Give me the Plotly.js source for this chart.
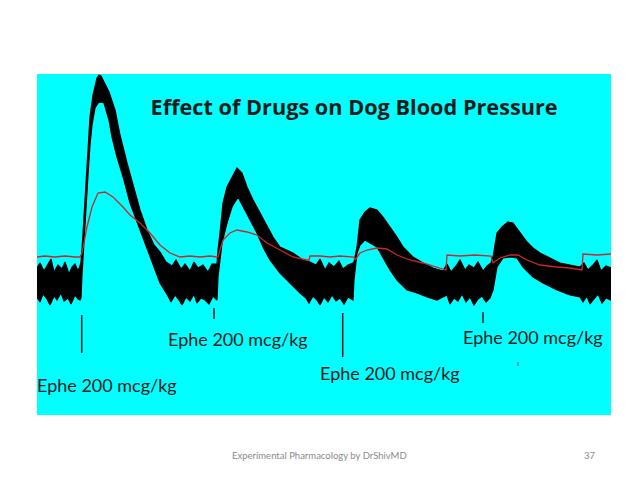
<!DOCTYPE html>
<html>
<head>
<meta charset="utf-8">
<script src="https://cdn.plot.ly/plotly-3.0.1.min.js"></script>
<style>html,body{margin:0;padding:0;background:#fff;}#chart{width:638px;height:478px;}</style>
</head>
<body>
<div id="chart"></div>
<script>
var upperT = [0,3,7,10,14,17,21,25,28,32,35,38,41,43,44,45,47,49,51,53,56,58,60,62,64,67,72,78,83,90,97,103,110,117,123,129,135,139,144,148,153,157,161,166,171,175,180,181,183,186,190,195,200,205,210,216,223,230,236,243,250,256,266,273,279,283,288,292,297,302,306,311,316,317,320,323,328,333,340,346,353,360,366,376,386,396,406,410,414,419,423,428,432,437,441,446,450,454,456,460,465,471,476,483,490,496,503,513,523,533,543,547,551,556,560,564,569,574];
var upperP = [147,152,144,149,156,143,150,146,153,141,148,151,144,149,153,165,200,235,265,298,320,330,337,340,339,333,323,305,280,252,228,205,185,170,163,153,149,155,146,151,144,153,147,150,143,151,151,165,182,212,228,238,247,242,228,215,202,188,178,168,165,162,155,153,150,156,145,152,148,154,146,150,152,153,168,195,203,207,205,198,188,178,168,158,152,147,144,151,143,149,155,145,150,147,153,144,149,152,158,182,188,193,192,183,173,167,162,157,152,150,148,152,145,150,155,144,149,147];

var lowerT = [0,3,6,10,13,17,20,24,27,31,34,38,41,43,44,45,47,49,51,53,55,58,61,64,67,72,75,80,87,93,100,107,115,123,131,134,138,142,145,149,153,157,160,164,168,172,176,180,181,185,190,195,201,206,213,220,226,233,243,253,263,269,272,276,280,283,287,291,295,299,303,307,311,316,317,320,323,328,333,340,346,353,360,370,380,390,400,410,413,417,421,425,429,433,437,441,445,449,453,456,460,466,473,480,486,496,506,520,533,543,546,550,553,557,561,565,569,574];
var lowerP = [118,113,121,116,110,119,115,122,114,117,111,120,116,115,117,140,175,210,240,270,290,307,312,313,312,295,278,258,235,212,192,175,153,132,119,113,120,115,110,118,114,121,112,117,115,111,119,115,138,172,192,208,218,208,195,182,168,155,142,132,122,117,112,119,115,110,118,113,120,114,117,111,118,115,135,162,170,175,172,168,158,145,135,125,122,118,115,120,111,117,114,121,113,118,110,116,119,113,117,125,148,157,158,157,148,138,132,125,120,118,113,119,111,116,121,112,117,115];

var meanT = [0,8,18,28,38,43,45,50,55,61,68,76,86,93,103,113,123,133,143,153,163,173,180,181,186,193,200,210,220,230,243,256,270,272,273,283,293,303,317,318,323,330,340,350,360,373,386,400,409,410,423,438,454,456,463,473,481,490,503,520,533,545,546,560,574];
var meanP = [158,159,158,159,158,158,162,188,208,222,223,218,208,200,192,182,170,162,158,159,158,159,158,158,175,182,185,183,180,172,165,158,155,155,159,159,158,159,158,155,162,165,167,166,160,155,152,148,145,160,159,160,159,152,157,160,160,155,150,148,147,145,161,160,161];

var doseLabels = ["Ephe 200 mcg/kg","Ephe 200 mcg/kg","Ephe 200 mcg/kg","Ephe 200 mcg/kg"];
var titleText = "Effect of Drugs on Dog Blood Pressure";
var footerText = "Experimental Pharmacology by DrShivMD";
var pageNumber = "37";

// Band polygon: upper envelope then lower envelope reversed
var bandX = upperT.concat(lowerT.slice().reverse());
var bandY = upperP.concat(lowerP.slice().reverse());

var traces = [
  {x: bandX, y: bandY, type: 'scatter', mode: 'lines', fill: 'toself',
   fillcolor: '#000000', line: {color: '#000000', width: 1.2}, hoverinfo: 'skip'},
  {x: meanT, y: meanP, type: 'scatter', mode: 'lines',
   line: {color: '#c8282a', width: 1.3}, hoverinfo: 'skip'}
];

var labelFont = {family: 'Lato, "Open Sans", sans-serif', size: 18, color: '#1b1b1b'};
var footFont = {family: 'Lato, "Open Sans", sans-serif', size: 9.5, color: '#8a8a8a'};
var layout = {
  width: 638, height: 478,
  margin: {l: 37, r: 27, t: 74, b: 63, pad: 0},
  paper_bgcolor: '#ffffff',
  plot_bgcolor: '#00ffff',
  showlegend: false,
  title: {text: '<b>' + titleText + '</b>', font: {family: '"Open Sans", Lato, sans-serif', size: 21.7, color: '#1b1b1b'},
          xref: 'paper', yref: 'container', x: 0.5525, xanchor: 'center', y: 1 - 107/478, yanchor: 'middle'},
  xaxis: {range: [0, 574], visible: false, fixedrange: true},
  yaxis: {range: [0, 341], visible: false, fixedrange: true},
  annotations: [
    {x: 0, y: 30, xref: 'x', yref: 'y', xshift: -2.5, text: doseLabels[0], showarrow: false, xanchor: 'left', yanchor: 'middle', font: labelFont},
    {x: 131, y: 76, xref: 'x', yref: 'y', xshift: -2.5, text: doseLabels[1], showarrow: false, xanchor: 'left', yanchor: 'middle', font: labelFont},
    {x: 283, y: 42, xref: 'x', yref: 'y', xshift: -2.5, text: doseLabels[2], showarrow: false, xanchor: 'left', yanchor: 'middle', font: labelFont},
    {x: 426, y: 78, xref: 'x', yref: 'y', xshift: -2.5, text: doseLabels[3], showarrow: false, xanchor: 'left', yanchor: 'middle', font: labelFont},
    {x: 0.3362, y: -0.1202, xref: 'paper', yref: 'paper', text: footerText, showarrow: false, xanchor: 'left', yanchor: 'middle', font: footFont},
    {x: 0.9774, y: -0.1202, xref: 'paper', yref: 'paper', text: pageNumber, showarrow: false, xanchor: 'right', yanchor: 'middle', font: footFont}
  ],
  shapes: [
    {type: 'line', xref: 'x', yref: 'y', x0: 44.7, x1: 44.7, y0: 100, y1: 62, line: {color: '#1b1b1b', width: 1.5}},
    {type: 'line', xref: 'x', yref: 'y', x0: 177, x1: 177, y0: 107, y1: 96, line: {color: '#1b1b1b', width: 1.5}},
    {type: 'line', xref: 'x', yref: 'y', x0: 305.7, x1: 305.7, y0: 102, y1: 58, line: {color: '#1b1b1b', width: 1.5}},
    {type: 'line', xref: 'x', yref: 'y', x0: 446, x1: 446, y0: 103, y1: 92, line: {color: '#1b1b1b', width: 1.5}},
    {type: 'line', xref: 'x', yref: 'y', x0: 481, x1: 481, y0: 53, y1: 49, line: {color: '#555555', width: 1}}
  ]
};
Plotly.newPlot('chart', traces, layout, {displayModeBar: false, staticPlot: true});
</script>
</body>
</html>
